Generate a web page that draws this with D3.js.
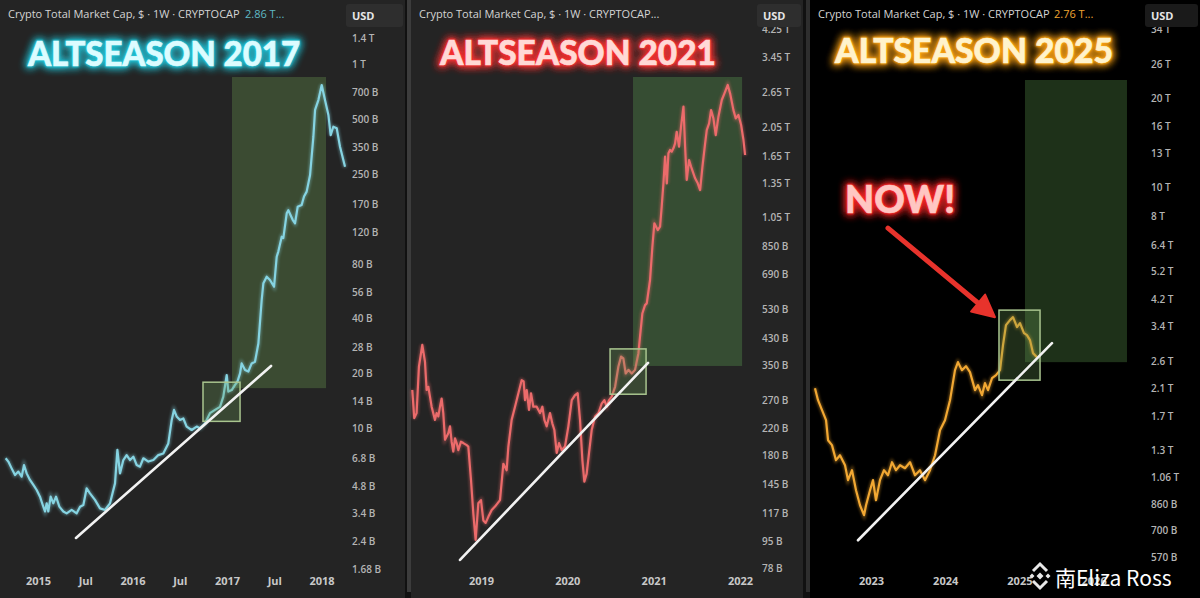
<!DOCTYPE html>
<html><head><meta charset="utf-8">
<script src="https://cdn.jsdelivr.net/npm/d3@7"></script>
<style>body{margin:0;background:#000;overflow:hidden} svg{display:block}</style>
</head><body><svg id="c" width="1200" height="598"></svg>
<script>
// ---------- DATA (values in billions USD, x as decimal years) ----------
const years2017 = [2014.658,2014.686,2014.721,2014.757,2014.792,2014.827,2014.852,2014.880,2014.915,2014.951,2014.986,2015.021,2015.050,2015.074,2015.092,2015.109,2015.134,2015.162,2015.191,2015.226,2015.268,2015.303,2015.356,2015.409,2015.445,2015.480,2015.515,2015.550,2015.603,2015.656,2015.709,2015.762,2015.815,2015.840,2015.868,2015.903,2015.938,2015.974,2016.009,2016.044,2016.079,2016.115,2016.168,2016.221,2016.273,2016.326,2016.379,2016.415,2016.439,2016.467,2016.503,2016.538,2016.573,2016.626,2016.679,2016.714,2016.767,2016.820,2016.873,2016.926,2016.961,2016.997,2017.014,2017.050,2017.085,2017.110,2017.138,2017.155,2017.191,2017.226,2017.261,2017.296,2017.332,2017.367,2017.385,2017.420,2017.455,2017.498,2017.526,2017.543,2017.579,2017.596,2017.632,2017.649,2017.695,2017.720,2017.748,2017.790,2017.815,2017.843,2017.879,2017.914,2017.932,2017.967,2018.002,2018.037,2018.073,2018.097,2018.125,2018.161,2018.196,2018.249];
const cap2017 = [6.83,6.55,6.01,5.52,5.77,5.41,6.27,5.64,5.19,4.87,4.57,4.20,3.78,3.48,3.86,3.48,4.20,3.86,4.20,3.70,3.48,3.40,3.55,3.40,3.70,3.78,4.67,4.38,4.03,3.62,3.55,3.86,4.97,7.59,5.64,6.68,7.11,6.68,6.97,6.27,6.14,6.83,6.55,6.68,7.11,7.26,8.24,11.1,12.6,11.6,11.1,11.3,10.2,9.77,10.2,9.98,10.6,12.1,12.6,13.1,14.9,19.6,15.9,16.2,17.3,18.0,20.0,22.7,20.9,20.5,22.7,23.2,29.2,50.7,62.7,68.1,65.3,60.0,87.7,93.6,113,111,152,158,140,134,165,169,188,200,247,401,563,638,771,638,528,409,455,446,353,274];

const years2021 = [2018.204,2018.227,2018.254,2018.281,2018.320,2018.351,2018.370,2018.390,2018.409,2018.428,2018.467,2018.486,2018.506,2018.525,2018.544,2018.563,2018.583,2018.602,2018.621,2018.641,2018.660,2018.679,2018.699,2018.718,2018.737,2018.768,2018.795,2018.834,2018.853,2018.884,2018.911,2018.938,2018.969,2019.000,2019.027,2019.054,2019.085,2019.124,2019.162,2019.220,2019.259,2019.297,2019.317,2019.355,2019.394,2019.433,2019.471,2019.494,2019.510,2019.529,2019.556,2019.579,2019.606,2019.645,2019.684,2019.711,2019.734,2019.761,2019.799,2019.826,2019.850,2019.877,2019.904,2019.935,2019.973,2020.012,2020.051,2020.089,2020.120,2020.147,2020.174,2020.197,2020.224,2020.251,2020.282,2020.321,2020.360,2020.398,2020.429,2020.456,2020.483,2020.514,2020.553,2020.591,2020.622,2020.649,2020.676,2020.707,2020.746,2020.784,2020.823,2020.842,2020.869,2020.900,2020.920,2020.958,2020.985,2021.008,2021.047,2021.074,2021.093,2021.113,2021.132,2021.152,2021.171,2021.190,2021.209,2021.229,2021.248,2021.267,2021.294,2021.317,2021.345,2021.364,2021.383,2021.410,2021.433,2021.460,2021.480,2021.511,2021.538,2021.565,2021.596,2021.615,2021.642,2021.665,2021.692,2021.719,2021.750,2021.789,2021.820,2021.858,2021.885,2021.924,2021.951,2021.982,2022.013,2022.040,2022.059];
const cap2021 = [292,237,246,347,408,360,292,299,278,258,234,246,240,258,274,246,202,207,212,223,199,185,204,197,187,199,197,194,192,150,117,96,126,129,111,109,114,120,123,129,169,161,192,234,258,285,314,311,271,292,252,285,258,258,246,258,234,223,246,228,217,183,197,187,192,223,271,281,285,234,174,148,157,183,217,240,246,264,271,258,271,278,299,347,374,369,330,339,330,339,383,434,515,548,555,660,845,1005,956,980,1137,1352,1647,1352,1689,1731,1710,1753,1819,1982,1775,2057,2387,1775,1386,1607,1530,1456,1403,1352,1286,1530,1819,2007,2108,2327,2189,1934,2216,2508,2635,2803,2635,2327,2189,2244,2083,1864,1668];

const years2025 = [2022.245,2022.286,2022.340,2022.394,2022.421,2022.474,2022.528,2022.582,2022.650,2022.690,2022.744,2022.798,2022.852,2022.906,2022.933,2022.987,2023.027,2023.067,2023.121,2023.175,2023.229,2023.283,2023.337,2023.391,2023.458,2023.526,2023.593,2023.660,2023.728,2023.795,2023.863,2023.930,2023.997,2024.065,2024.132,2024.172,2024.226,2024.280,2024.334,2024.402,2024.442,2024.496,2024.536,2024.577,2024.631,2024.685,2024.739,2024.779,2024.819,2024.873,2024.914,2024.968,2025.008,2025.062,2025.102,2025.143,2025.183,2025.237];
const cap2025 = [2109,1921,1778,1646,1409,1356,1207,1254,1161,1034,1117,956,851,788,851,956,1034,885,1034,1117,1074,1188,1117,1161,1134,1188,1074,1117,1034,1117,1254,1523,1646,1921,2425,2580,2425,2501,2388,2077,2159,1998,2193,2077,2279,2333,2425,2943,3437,3573,3656,3385,3490,3229,3180,3060,2767,2681];

// axis ticks
const yTicks2017 = [1400,1000,700,500,350,250,170,120,80,56,40,28,20,14,10,6.8,4.8,3.4,2.4,1.68];
const yLabels2017 = ["1.4 T","1 T","700 B","500 B","350 B","250 B","170 B","120 B","80 B","56 B","40 B","28 B","20 B","14 B","10 B","6.8 B","4.8 B","3.4 B","2.4 B","1.68 B"];
const yTicks2021 = [4250,3450,2650,2050,1650,1350,1050,850,690,530,430,350,270,220,180,145,117,95,78];
const yLabels2021 = ["4.25 T","3.45 T","2.65 T","2.05 T","1.65 T","1.35 T","1.05 T","850 B","690 B","530 B","430 B","350 B","270 B","220 B","180 B","145 B","117 B","95 B","78 B"];
const yTicks2025 = [34000,26000,20000,16000,13000,10000,8000,6400,5200,4200,3400,2600,2100,1700,1300,1060,860,700,570];
const yLabels2025 = ["34 T","26 T","20 T","16 T","13 T","10 T","8 T","6.4 T","5.2 T","4.2 T","3.4 T","2.6 T","2.1 T","1.7 T","1.3 T","1.06 T","860 B","700 B","570 B"];
const xTicks2017 = [2015,2015.5,2016,2016.5,2017,2017.5,2018];
const xLabels2017 = ["2015","Jul","2016","Jul","2017","Jul","2018"];
const xTicks2021 = [2019,2020,2021,2022];
const xLabels2021 = ["2019","2020","2021","2022"];
const xTicks2025 = [2023,2024,2025,2026];
const xLabels2025 = ["2023","2024","2025","2026"];

// annotations: zone [x0,x1,yLow,yHigh], box [x0,x1,yLow,yHigh], trend [[x,y],[x,y]]
const zone2017 = [2017.053, 2018.048, 16.6, 854];
const box2017 = [2016.746, 2017.138, 10.9, 17.9];
const trend2017 = [[2015.402, 2.49], [2017.466, 22.0]];
const zone2021 = [2020.761, 2022.024, 349, 2975];
const box2021 = [2020.495, 2020.912, 283, 396];
const trend2021 = [[2018.757, 82.8], [2020.935, 357]];
const zone2025 = [2025.075, 2026.450, 2580, 22968];
const box2025 = [2024.725, 2025.278, 2244, 3861];
const trend2025 = [[2022.825, 649], [2025.439, 2988]];
const arrow2025 = [[2023.229, 7290], [2024.671, 3656]];
const nowLabel = {text: "NOW!", x: 2023.39, y: 8190};

const titles = ["ALTSEASON 2017", "ALTSEASON 2021", "ALTSEASON 2025"];
const headerText = "Crypto Total Market Cap, $ · 1W · CRYPTOCAP";
const lastValues = ["2.86 T...", "...", "2.76 T..."];

// ---------- LAYOUT ----------
const svg = d3.select('#c');
const defs = svg.append('defs');
function glowFilter(id, std) {
  const f = defs.append('filter').attr('id', id)
    .attr('x', '-20%').attr('y', '-60%').attr('width', '140%').attr('height', '220%');
  f.append('feGaussianBlur').attr('in', 'SourceGraphic').attr('stdDeviation', std).attr('result', 'b');
  const m = f.append('feMerge');
  m.append('feMergeNode').attr('in', 'b');
  m.append('feMergeNode').attr('in', 'b');
}
glowFilter('glow', 4);
glowFilter('glowS', 1.2);
glowFilter('lineGlow', 1.5);

svg.append('rect').attr('width', 1200).attr('height', 598).attr('fill', '#111');

const panels = [
  {px0: 0, px1: 405, bg: '#242424', years: years2017, caps: cap2017,
   xs: d3.scaleLinear().domain([2015, 2018]).range([38, 321.5]),
   ys: d3.scaleLog().domain([1.68, 1400]).range([569, 38]),
   yT: yTicks2017, yL: yLabels2017, xT: xTicks2017, xL: xLabels2017,
   axisX: 352, usd: [346, 405], line: '#86d4e2', zone: zone2017, box: box2017, trend: trend2017,
   zoneFill: 'rgba(92,130,72,0.42)', title: titles[0], tcx: 164, tw: 272, tby: 66, tFill: '#dcfcff', tGlow: '#27c4d8',
   last: lastValues[0], lastX: 245, lastColor: '#5fb9c4'},
  {px0: 411, px1: 803, bg: '#242424', years: years2021, caps: cap2021,
   xs: d3.scaleLinear().domain([2019, 2022]).range([481, 740]),
   ys: d3.scaleLog().domain([78, 3450]).range([568, 57]),
   yT: yTicks2021, yL: yLabels2021, xT: xTicks2021, xL: xLabels2021,
   axisX: 762, usd: [757, 803], line: '#ec6b6b', zone: zone2021, box: box2021, trend: trend2021,
   zoneFill: 'rgba(80,135,75,0.42)', title: titles[1], tcx: 578, tw: 276, tby: 65, tFill: '#ffd9d6', tGlow: '#ff3535',
   last: null},
  {px0: 810, px1: 1200, bg: '#000', years: years2025, caps: cap2025,
   xs: d3.scaleLinear().domain([2023, 2026]).range([871, 1093.6]),
   ys: d3.scaleLog().domain([570, 26000]).range([557, 64]),
   yT: yTicks2025, yL: yLabels2025, xT: xTicks2025, xL: xLabels2025,
   axisX: 1151, usd: [1145, 1200], line: '#f2a833', zone: zone2025, box: box2025, trend: trend2025,
   zoneFill: 'rgba(55,90,45,0.55)', title: titles[2], tcx: 974, tw: 278, tby: 63, tFill: '#fff3cc', tGlow: '#ffa41a',
   last: lastValues[2], lastX: 1054, lastColor: '#f0a531'}
];

// separators
svg.append('rect').attr('x', 407).attr('y', 0).attr('width', 4).attr('height', 592).attr('fill', '#3c3c3c');
svg.append('rect').attr('x', 806).attr('y', 0).attr('width', 4).attr('height', 592).attr('fill', '#2e2e2e');

const font = "'Open Sans', 'Inter', sans-serif";

panels.forEach((p, i) => {
  const g = svg.append('g');
  g.append('rect').attr('x', p.px0).attr('y', 0).attr('width', p.px1 - p.px0).attr('height', 598).attr('fill', p.bg);

  // header
  const hx = p.px0 + 8;
  g.append('text').attr('x', hx).attr('y', 18).attr('fill', '#d4d4d4')
    .attr('font-family', font).attr('font-size', 11).attr('font-weight', 500)
    .text(headerText + (i === 1 ? "..." : ""));
  if (p.last) {
    g.append('text').attr('x', p.lastX).attr('y', 18).attr('fill', p.lastColor)
      .attr('font-family', font).attr('font-size', 11).attr('font-weight', 500).text(p.last);
  }

  // zone
  const z = p.zone;
  g.append('rect').attr('x', p.xs(z[0])).attr('y', p.ys(z[3]))
    .attr('width', p.xs(z[1]) - p.xs(z[0])).attr('height', p.ys(z[2]) - p.ys(z[3]))
    .attr('fill', p.zoneFill);

  // y axis
  const yAxis = d3.axisRight(p.ys).tickValues(p.yT).tickSize(0).tickPadding(0)
    .tickFormat((d, k) => p.yL[k]);
  const ya = g.append('g').attr('transform', `translate(${p.axisX},0)`).call(yAxis);
  ya.select('.domain').remove();
  ya.selectAll('text').attr('fill', '#b4b4b4').attr('font-family', font)
    .attr('font-size', 10).attr('font-weight', 600).attr('text-anchor', 'start');

  // x axis
  const xAxis = d3.axisBottom(p.xs).tickValues(p.xT).tickSize(0).tickPadding(0)
    .tickFormat((d, k) => p.xL[k]);
  const xa = g.append('g').attr('transform', `translate(0,577)`).call(xAxis);
  xa.select('.domain').remove();
  xa.selectAll('text').attr('fill', '#c8c8c8').attr('font-family', font)
    .attr('font-size', 11).attr('font-weight', 700);

  // USD box
  g.append('rect').attr('x', p.usd[0]).attr('y', 4).attr('width', p.usd[1] - p.usd[0] - 2).attr('height', 23)
    .attr('rx', 3).attr('fill', p.bg === '#000' ? '#1a1a1a' : '#2e2e2e');
  g.append('text').attr('x', p.usd[0] + 6).attr('y', 20).attr('fill', '#e6e6e6')
    .attr('font-family', font).attr('font-size', 11).attr('font-weight', 700).text('USD');

  // series line (soft glow underneath)
  const pts = p.years.map((yr, k) => [yr, p.caps[k]]);
  const line = d3.line().x(d => p.xs(d[0])).y(d => p.ys(d[1]));
  g.append('path').datum(pts).attr('d', line).attr('fill', 'none')
    .attr('stroke', p.line).attr('stroke-width', 3).attr('opacity', 0.35)
    .attr('filter', 'url(#lineGlow)');
  g.append('path').datum(pts).attr('d', line).attr('fill', 'none')
    .attr('stroke', p.line).attr('stroke-width', 2.2).attr('stroke-linejoin', 'round');

  // small box
  const b = p.box;
  g.append('rect').attr('x', p.xs(b[0])).attr('y', p.ys(b[3]))
    .attr('width', p.xs(b[1]) - p.xs(b[0])).attr('height', p.ys(b[2]) - p.ys(b[3]))
    .attr('fill', 'rgba(110,160,90,0.28)').attr('stroke', '#a9c58f').attr('stroke-width', 1.5);

  // trend line
  g.append('path').datum(p.trend).attr('d', line).attr('stroke', '#f2f2f2')
    .attr('stroke-width', 2.6).attr('stroke-linecap', 'round');

  // title with glow
  [['glow', p.tGlow, 3, 0.9], ['glowS', p.tGlow, 1.5, 0.8]].forEach(([fid, col, sw, op]) => {
    g.append('text').attr('x', p.tcx).attr('y', p.tby).attr('text-anchor', 'middle')
      .attr('font-family', "Lato, 'Open Sans', sans-serif").attr('font-weight', 900).attr('font-size', 34)
      .attr('textLength', p.tw).attr('lengthAdjust', 'spacingAndGlyphs')
      .attr('fill', col).attr('stroke', col).attr('stroke-width', sw).attr('opacity', op)
      .attr('filter', `url(#${fid})`).text(p.title);
  });
  g.append('text').attr('x', p.tcx).attr('y', p.tby).attr('text-anchor', 'middle')
    .attr('font-family', "Lato, 'Open Sans', sans-serif").attr('font-weight', 900).attr('font-size', 34)
    .attr('textLength', p.tw).attr('lengthAdjust', 'spacingAndGlyphs')
    .attr('fill', p.tFill).attr('stroke', p.tFill).attr('stroke-width', 0.6).text(p.title);

  if (i === 2) {
    // arrow
    const a0 = [p.xs(arrow2025[0][0]), p.ys(arrow2025[0][1])];
    const a1 = [p.xs(arrow2025[1][0]), p.ys(arrow2025[1][1])];
    const ang = Math.atan2(a1[1] - a0[1], a1[0] - a0[0]);
    const hl = 22, hw = 11;
    const back = [a1[0] - hl * Math.cos(ang), a1[1] - hl * Math.sin(ang)];
    g.append('line').attr('x1', a0[0]).attr('y1', a0[1]).attr('x2', back[0] + 3 * Math.cos(ang)).attr('y2', back[1] + 3 * Math.sin(ang))
      .attr('stroke', '#e8332c').attr('stroke-width', 5).attr('stroke-linecap', 'round');
    const nx = -Math.sin(ang), ny = Math.cos(ang);
    g.append('path').attr('d', d3.line()([a1, [back[0] + nx * hw, back[1] + ny * hw], [back[0] - nx * hw, back[1] - ny * hw]]) + 'Z')
      .attr('fill', '#e8332c').attr('stroke', '#e8332c').attr('stroke-width', 2).attr('stroke-linejoin', 'round');
    // NOW!
    const nX = p.xs(nowLabel.x), nY = p.ys(nowLabel.y);
    [['glow', 3, 0.9], ['glowS', 1.5, 0.8]].forEach(([fid, sw, op]) => {
      g.append('text').attr('x', nX).attr('y', nY).attr('text-anchor', 'middle')
        .attr('font-family', "Lato, sans-serif").attr('font-weight', 900).attr('font-size', 38)
        .attr('textLength', 110).attr('lengthAdjust', 'spacingAndGlyphs')
        .attr('fill', '#ff2a2a').attr('stroke', '#ff2a2a').attr('stroke-width', sw).attr('opacity', op)
        .attr('filter', `url(#${fid})`).text(nowLabel.text);
    });
    g.append('text').attr('x', nX).attr('y', nY).attr('text-anchor', 'middle')
      .attr('font-family', "Lato, sans-serif").attr('font-weight', 900).attr('font-size', 38)
      .attr('textLength', 110).attr('lengthAdjust', 'spacingAndGlyphs')
      .attr('fill', '#ffc6c2').attr('stroke', '#ffc6c2').attr('stroke-width', 0.6).text(nowLabel.text);
  }
});

// watermark (Binance-style logo + name)
const wm = svg.append('g').attr('transform', 'translate(1040,576)');
const dm = (cx, cy, r) => `M${cx},${cy - r}L${cx + r},${cy}L${cx},${cy + r}L${cx - r},${cy}Z`;
wm.append('path').attr('d', dm(0, 0, 3.5) + dm(-8, 0, 2.5) + dm(8, 0, 2.5)).attr('fill', '#e8e8e8');
wm.append('path').attr('d', 'M-7,-5L0,-12L7,-5 M-7,5L0,12L7,5').attr('fill', 'none')
  .attr('stroke', '#e8e8e8').attr('stroke-width', 3);
svg.append('text').attr('x', 1055).attr('y', 586).attr('fill', '#ffffff')
  .attr('font-family', "'Noto Sans CJK SC', 'Noto Sans', sans-serif").attr('font-size', 21)
  .text('南Eliza Ross');
</script>
</body></html>
